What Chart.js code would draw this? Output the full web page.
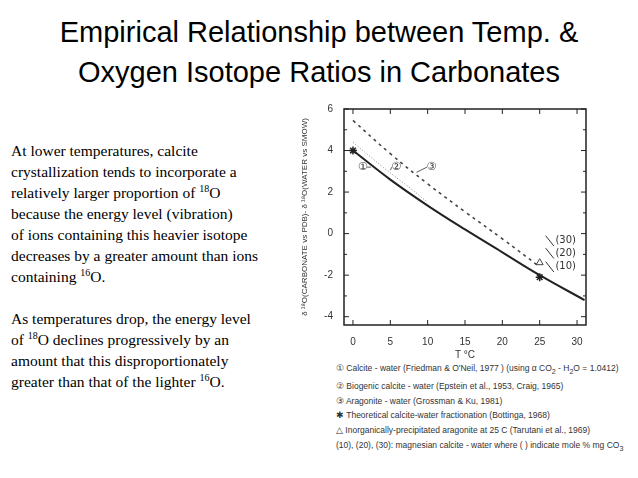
<!DOCTYPE html><html><head><meta charset="utf-8">
<script src="https://cdn.jsdelivr.net/npm/chart.js@4"></script>
<style>
body{margin:0;width:638px;height:478px;background:#fff;position:relative;overflow:hidden}
#t{position:absolute;top:12px;left:0;width:638px;text-align:center;font:29px "Liberation Sans",Arial,sans-serif;line-height:40px;color:#000}
#l{position:absolute;left:11px;top:140px;width:300px;font:15.5px "Liberation Serif","Times New Roman",serif;line-height:21px;color:#000}
sup{font-size:10px;line-height:0}
#c{position:absolute;left:300px;top:100px}
#g{position:absolute;left:336px;top:361px;font:8.5px "Liberation Sans",Arial,sans-serif;line-height:14.6px;color:#333;white-space:nowrap}
</style></head><body>
<div id="t">Empirical Relationship between Temp. &amp;<br>Oxygen Isotope Ratios in Carbonates</div>
<div id="l">At lower temperatures, calcite<br>crystallization tends to incorporate a<br>relatively larger proportion of <sup>18</sup>O<br>because the energy level (vibration)<br>of ions containing this heavier isotope<br>decreases by a greater amount than ions<br>containing <sup>16</sup>O.<br><br>As temperatures drop, the energy level<br>of <sup>18</sup>O declines progressively by an<br>amount that this disproportionately<br>greater than that of the lighter <sup>16</sup>O.</div>
<canvas id="c" width="300" height="261"></canvas>
<div id="g">① Calcite - water (Friedman &amp; O'Neil, 1977 ) (using α CO<sub>2</sub> - H<sub>2</sub>O = 1.0412)<br>② Biogenic calcite - water (Epstein et al., 1953, Craig, 1965)<br>③ Aragonite - water (Grossman &amp; Ku, 1981)<br>✱ Theoretical calcite-water fractionation (Bottinga, 1968)<br>△ Inorganically-precipitated aragonite at 25 C (Tarutani et al., 1969)<br>(10), (20), (30): magnesian calcite - water where ( ) indicate mole % mg CO<sub>3</sub></div>
<script>
const temps=[0,5,10,15,20,25,31];
const calcite=[4.0,2.6,1.35,0.2,-0.9,-2.0,-3.2];
const aragTemps=[0,5,10,15,20,25];
const aragonite=[5.45,3.85,2.4,1.05,-0.25,-1.6];
const bioTemps=[0,4,8,10];
const biogenic=[4.4,3.2,2.1,1.5];
const starPts=[{x:0,y:4.0},{x:25,y:-2.1}];
const triPts=[{x:25,y:-1.4}];
const mgLabels=['(30)','(20)','(10)'];
const mgY=[-0.35,-0.95,-1.6];
const numLabels=['①','②','③'];
const numPts=[{x:2.4,y:3.2,lx:1.3,ly:3.2},{x:5,y:3.05,lx:5.8,ly:3.2},{x:8.5,y:2.95,lx:10.5,ly:3.2}];
const xTicks=[0,5,10,15,20,25,30];
const yTicks=[-4,-2,0,2,4,6];
const toPts=(xs,ys)=>xs.map((x,i)=>({x,y:ys[i]}));
const ds=[
{data:toPts(temps,calcite),showLine:true,borderColor:'#222',borderWidth:2,pointRadius:0,tension:0.4},
{data:toPts(aragTemps,aragonite),showLine:true,borderColor:'#444',borderWidth:1.6,borderDash:[3,4],pointRadius:0,tension:0.4},
{data:toPts(bioTemps,biogenic),showLine:true,borderColor:'#888',borderWidth:1,borderDash:[1,2],pointRadius:0},
{data:starPts,pointStyle:'star',pointRadius:4,borderColor:'#222',borderWidth:1.5},
{data:triPts,pointStyle:'triangle',pointRadius:4,borderColor:'#444',backgroundColor:'#fff',borderWidth:1}
];
mgY.forEach(y=>ds.push({data:[{x:25.8,y:y+0.25},{x:26.9,y:y-0.25}],showLine:true,borderColor:'#333',borderWidth:1,pointRadius:0}));
const labelPlugin={id:'lbl',afterDatasetsDraw(ch){const c=ch.ctx,xs=ch.scales.x,ys=ch.scales.y,a=ch.chartArea;c.save();
c.strokeStyle='#222';c.lineWidth=1.5;c.strokeRect(a.left,a.top,a.right-a.left,a.bottom-a.top);
c.lineWidth=1;c.beginPath();
xTicks.forEach(v=>{const p=xs.getPixelForValue(v);c.moveTo(p,a.bottom);c.lineTo(p,a.bottom-5);c.moveTo(p,a.top);c.lineTo(p,a.top+5);});
for(let v=-4;v<=6;v+=1){const p=ys.getPixelForValue(v);const L=v%2===0?5:3;c.moveTo(a.left,p);c.lineTo(a.left+L,p);c.moveTo(a.right,p);c.lineTo(a.right-L,p);}
c.stroke();
c.fillStyle='#333';c.font='10px "DejaVu Sans",sans-serif';c.textBaseline='middle';
mgLabels.forEach((t,i)=>c.fillText(t,xs.getPixelForValue(27.1),ys.getPixelForValue(mgY[i])));
c.font='11px "DejaVu Sans",sans-serif';c.textAlign='center';
numPts.forEach((p,i)=>{c.fillText(numLabels[i],xs.getPixelForValue(p.lx),ys.getPixelForValue(p.ly));c.strokeStyle='#333';c.lineWidth=0.8;c.beginPath();c.moveTo(xs.getPixelForValue(p.x),ys.getPixelForValue(p.y));c.lineTo(xs.getPixelForValue(p.lx+(i==0?0.6:-0.6)),ys.getPixelForValue(p.ly));c.stroke();});
c.restore();}};
new Chart(document.getElementById('c'),{type:'scatter',data:{datasets:ds},plugins:[labelPlugin],
options:{responsive:false,animation:false,layout:{padding:{top:7,right:14}},plugins:{legend:{display:false},tooltip:{enabled:false}},
scales:{x:{min:-1.2,max:31.2,afterFit:s=>{s.height=36},border:{display:false},grid:{display:false},
ticks:{color:'#333',font:{size:10}},title:{display:true,text:'T °C',color:'#333',font:{size:10},padding:0},afterBuildTicks:s=>{s.ticks=xTicks.map(v=>({value:v}))}},
y:{min:-4.4,max:6,afterFit:s=>{s.width=44},border:{display:false},grid:{display:false},
ticks:{color:'#333',font:{size:10}},afterBuildTicks:s=>{s.ticks=yTicks.map(v=>({value:v}))},
title:{display:true,text:'δ ¹⁸O(CARBONATE vs PDB)- δ ¹⁸O(WATER vs SMOW)',color:'#333',font:{size:8},padding:0}}}}});
</script></body></html>
